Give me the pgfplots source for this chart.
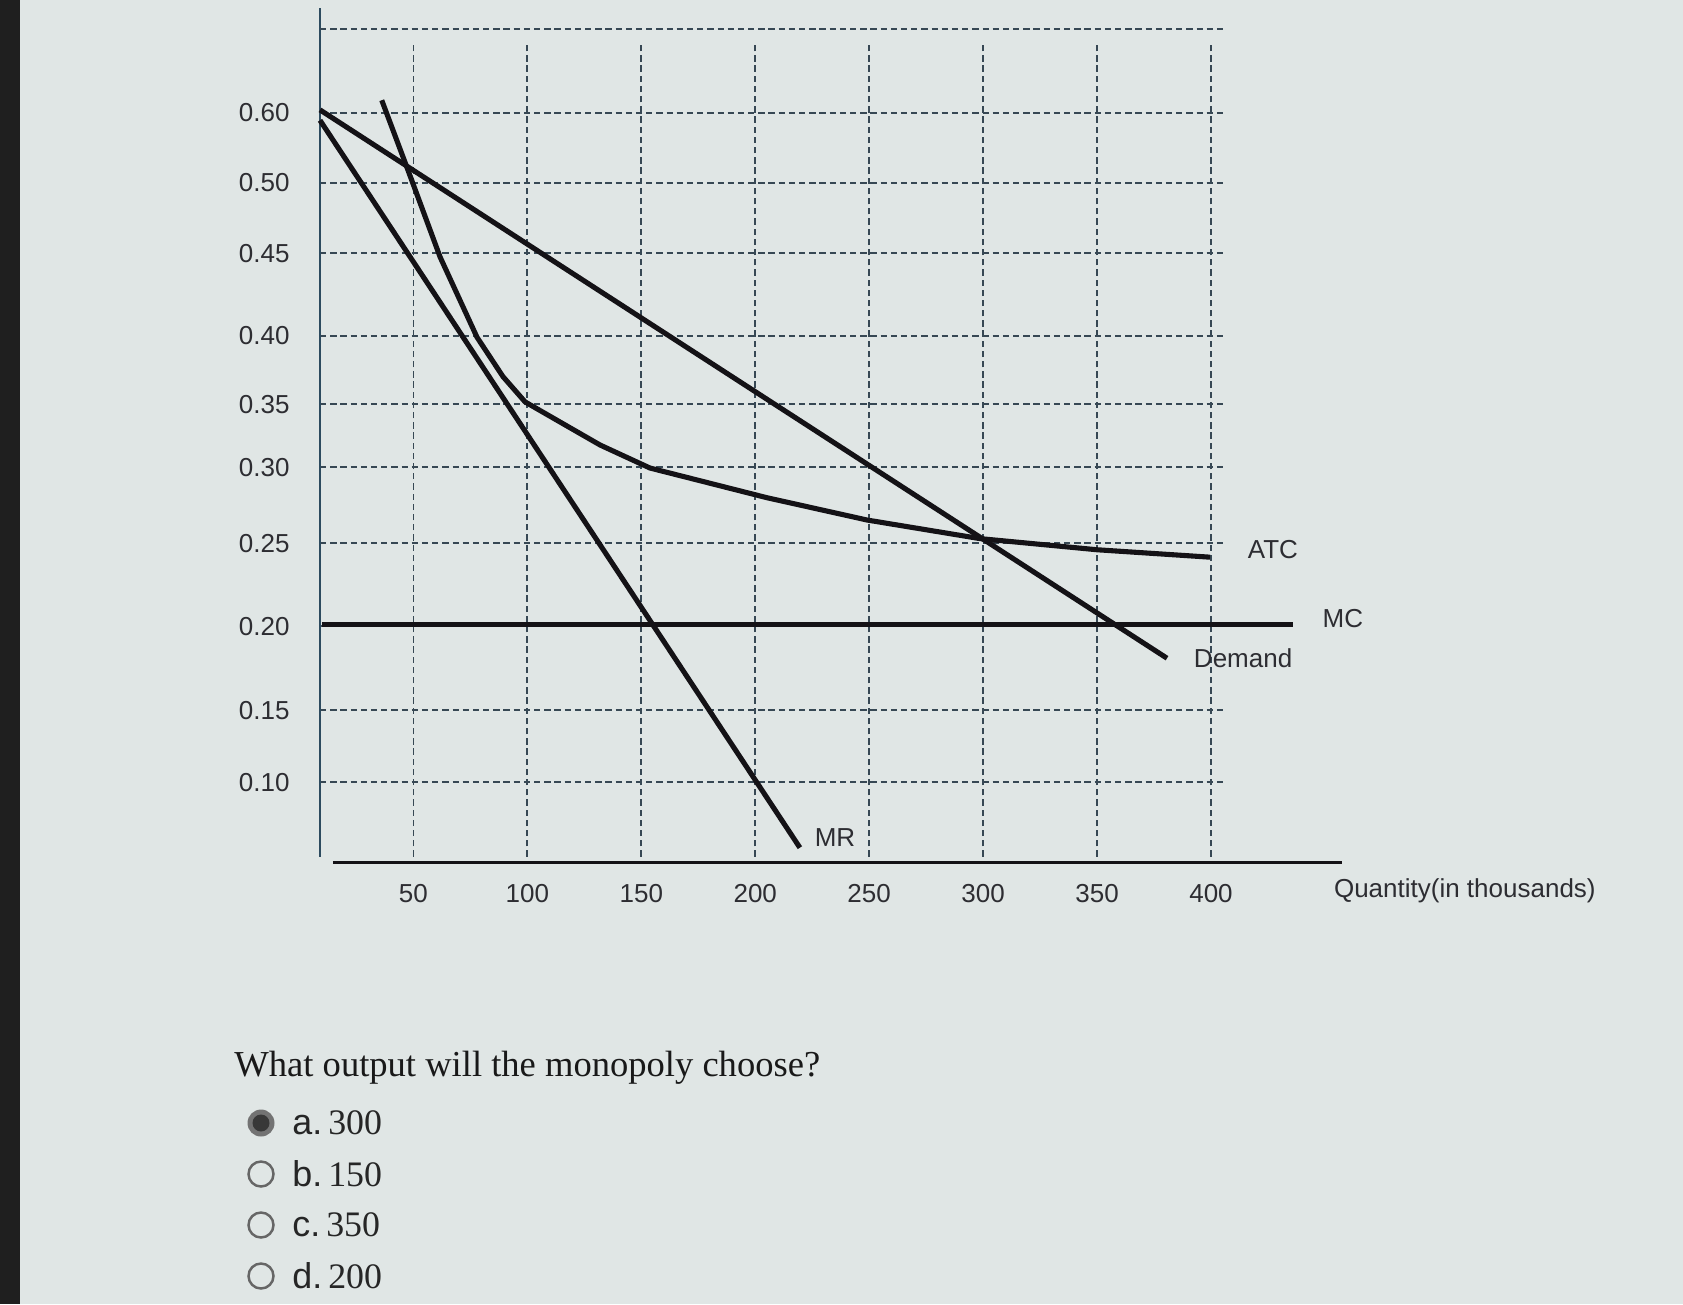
\documentclass[border=0pt]{standalone}
\usepackage{pgfplots}
\pgfplotsset{compat=1.18}
\usepackage{fontspec}
\setmainfont{Liberation Sans}
\newfontfamily\timesfont{Liberation Serif}

\definecolor{bgcol}{RGB}{224,230,229}
\definecolor{gridcol}{RGB}{55,72,84}
\definecolor{yaxcol}{RGB}{45,75,95}
\definecolor{curve}{RGB}{20,18,22}
\definecolor{labcol}{RGB}{45,45,50}

\begin{document}
\begin{tikzpicture}
% page background (photo of a screen)
\fill[bgcol] (0,0) rectangle (168.3mm,-130.4mm);
\fill[black!88] (0,0) rectangle (2mm,-130.4mm);
\path[use as bounding box] (0,0) rectangle (168.3mm,-130.4mm);

% y runs over the drawn grid rows; the price rows of the original are not evenly spaced
\begin{axis}[
  at={(32.0mm,-85.66mm)}, anchor=south west,
  x=0.22787mm, y=7.43mm,
  xmin=9, xmax=407, ymin=0, ymax=10.95,
  axis line style={draw=none},
  tick style={draw=none},
  grid=major,
  major grid style={draw=gridcol, line width=0.5pt, dash pattern=on 1.8pt off 1.1pt},
  xtick={50,100,150,200,250,300,350,400},
  xticklabels={50,100,150,200,250,300,350,400},
  ytick={1.00,1.97,3.10,4.22,5.24,6.09,7.01,8.12,9.07,10.01},
  yticklabels={0.10,0.15,0.20,0.25,0.30,0.35,0.40,0.45,0.50,0.60},
  tick label style={font=\fontsize{7.4}{9}\selectfont, text=labcol},
  yticklabel style={xshift=-1.8mm},
  xticklabel style={yshift=-1.5mm},
  clip=false,
]
  % axis lines and the top grid row
  \draw[line width=0.7pt, curve] (axis cs:14.7,-0.08) -- (axis cs:457.5,-0.08);
  \draw[line width=0.6pt, yaxcol] (axis cs:9,0) -- (axis cs:9,11.42);
  \draw[gridcol, line width=0.5pt, dash pattern=on 1.8pt off 1.1pt] (axis cs:9,11.14) -- (axis cs:407,11.14);

  % Demand
  \addplot[curve, line width=1.45pt] coordinates {(9,10.05) (380.7,2.67)};
  % MR
  \addplot[curve, line width=1.45pt] coordinates {(9,9.91) (219.6,0.12)};
  % MC
  \addplot[curve, line width=1.45pt] coordinates {(10,3.12) (436,3.12)};
  % ATC
  \addplot[curve, line width=1.45pt, line join=round] coordinates {
    (36.1,10.18) (47.6,9.24) (61.7,8.07) (77.9,6.99) (89.3,6.46) (99.0,6.12)
    (114.3,5.85) (131.9,5.54) (153.8,5.23) (205.2,4.83) (249.1,4.53) (298.6,4.28)
    (350.0,4.13) (399.6,4.03)};

  \begin{scope}[every node/.style={font=\fontsize{7.4}{9}\selectfont, text=labcol}]
    \node at (axis cs:427.2,4.13) {ATC};
    \node at (axis cs:457.9,3.21) {MC};
    \node at (axis cs:414.1,2.67) {Demand};
    \node at (axis cs:235,0.26) {MR};
    \node at (axis cs:511.4,-0.46) {Quantity(in thousands)};
  \end{scope}
\end{axis}

% question below the chart
\node[anchor=west, font=\timesfont\fontsize{10.4}{12}\selectfont, text=black!90] at (22.2mm,-106.8mm)
  {What output will the monopoly choose?};
\begin{scope}[every node/.style={anchor=west, font=\fontsize{10.2}{12}\selectfont, text=black!85}]
  \node at (28.0mm,-112.3mm) {a.\,{\timesfont 300}};
  \node at (28.0mm,-117.4mm) {b.\,{\timesfont 150}};
  \node at (28.0mm,-122.5mm) {c.\,{\timesfont 350}};
  \node at (28.0mm,-127.6mm) {d.\,{\timesfont 200}};
\end{scope}
\fill[black!55] (26.1mm,-112.3mm) circle (1.35mm);
\fill[black!78] (26.1mm,-112.3mm) circle (0.85mm);
\draw[black!60, line width=0.7pt] (26.1mm,-117.4mm) circle (1.25mm);
\draw[black!60, line width=0.7pt] (26.1mm,-122.5mm) circle (1.25mm);
\draw[black!60, line width=0.7pt] (26.1mm,-127.6mm) circle (1.25mm);
\end{tikzpicture}
\end{document}
